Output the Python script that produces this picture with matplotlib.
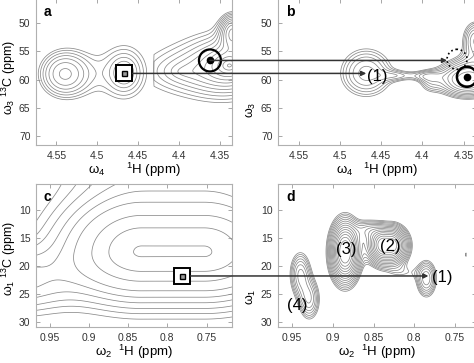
import numpy as np
import matplotlib.pyplot as plt
from matplotlib.patches import ConnectionPatch, Ellipse

plt.rcParams['font.family'] = ['Liberation Sans', 'DejaVu Sans']
plt.rcParams['mathtext.fontset'] = 'custom'
plt.rcParams['mathtext.rm'] = 'Liberation Sans'
plt.rcParams['mathtext.it'] = 'Liberation Sans'

# axis ranges (ppm)
a_xlim = (4.575, 4.335)
a_ylim = (71.6, 45.7)
c_xlim = (0.9675, 0.7175)
c_ylim = (30.9, 5.4)
d_xlim = (0.9675, 0.724)

hx_ticks = [4.55, 4.5, 4.45, 4.4, 4.35]
hx_labels = ['4.55', '4.5', '4.45', '4.4', '4.35']
ca_ticks = [50, 55, 60, 65, 70]
mx_ticks = [0.95, 0.9, 0.85, 0.8, 0.75]
mx_labels = ['0.95', '0.9', '0.85', '0.8', '0.75']
cb_ticks = [10, 15, 20, 25, 30]

# peak lists: x0, y0, sx, sy_up, sy_down, half-length in x, amp, shape (2 gauss, 1 cone)
a_split = 4.431
a_left = [(4.541, 59.0, 0.0237, 3.25, 3.25, 0.0, 0.67, 2),
          (4.467, 58.8, 0.028, 4.9, 4.7, 0.0, 0.80, 1)]
a_right = [(4.338, 57.5, 0.030, 3.4, 3.2, 0.0, 1.25, 1),
           (4.395, 58.6, 0.080, 5.5, 5.0, 0.0, 0.50, 1),
           (4.334, 51.5, 0.010, 2.0, 2.0, 0.0, 0.80, 2)]
b_peaks = [(4.468, 58.9, 0.025, 3.5, 3.3, 0.0, 0.65, 2),
           (4.414, 59.3, 0.016, 0.7, 0.7, 0.012, 0.33, 2),
           (4.345, 60.0, 0.025, 2.4, 2.1, 0.0, 1.20, 2),
           (4.392, 60.5, 0.010, 1.5, 1.5, 0.0, 0.28, 2),
           (4.335, 53.0, 0.012, 2.5, 2.5, 0.0, 0.70, 2)]
ab_levels = [0.3, 0.345, 0.40, 0.46, 0.53, 0.61, 0.70, 0.80, 0.92, 1.06,
             1.22, 1.40, 1.61, 1.85]
c_peaks = [(0.793, 17.5, 0.0585, 6.0, 4.9, 0.0396, 1.0, 2),
           (1.000, 22.5, 0.050, 3.5, 3.5, 0.0, 0.30, 2),
           (0.780, 2.0, 0.070, 4.0, 4.0, 0.04, 0.12, 2)]
c_levels = [0.05, 0.08, 0.12, 0.18, 0.256, 0.367, 0.566, 0.778, 0.985]
d_peaks = [(0.785, 22.3, 0.0080, 2.1, 2.1, 0.0, 1.0, 2),
           (0.833, 16.3, 0.0125, 2.0, 2.1, 0.004, 2.9, 2),
           (0.885, 17.5, 0.0110, 3.3, 3.3, 0.0, 2.9, 2),
           (0.858, 13.5, 0.0100, 1.2, 1.2, 0.0, 0.55, 2),
           (0.940, 21.5, 0.0085, 2.6, 2.6, 0.0, 0.9, 2),
           (0.929, 26.0, 0.0085, 2.4, 2.4, 0.0, 0.85, 2),
           (0.812, 21.2, 0.0150, 1.0, 1.0, 0.0, 0.25, 2),
           (0.7365, 18.0, 0.0015, 1.0, 1.0, 0.0, 0.32, 2)]
d_levels = [0.3, 0.36, 0.43, 0.52, 0.62, 0.74, 0.88, 1.04, 1.22, 1.42,
            1.64, 1.88, 2.14, 2.42]


def field(X, Y, peaks):
    Z = np.zeros_like(X)
    for x0, y0, sx, syu, syd, hx, amp, p in peaks:
        dx = np.maximum(np.abs(X - x0) - hx, 0) / sx
        dy = np.where(Y < y0, (Y - y0) / syu, (Y - y0) / syd)
        r = np.sqrt(dx ** 2 + dy ** 2)
        Z += amp * np.exp(-r ** p / p)
    return Z


def style(ax, xlim, ylim, xt, xl, yt):
    ax.set_xlim(xlim)
    ax.set_ylim(ylim)
    ax.set_xticks(xt)
    ax.set_xticklabels(xl)
    ax.set_yticks(yt)
    ax.tick_params(direction='in', top=True, right=True, length=3,
                   width=0.6, color='#999999', labelsize=7.5, labelcolor='#333333', pad=4)
    for s in ax.spines.values():
        s.set_color('#b0b0b0')
        s.set_linewidth(0.8)


def circ(ax, x, y, r_px, **kw):
    # ellipse in data units that looks round on screen
    w_px = ax.get_position().width * 474
    h_px = ax.get_position().height * 363
    xl, yl = ax.get_xlim(), ax.get_ylim()
    rx = r_px * abs(xl[1] - xl[0]) / w_px
    ry = r_px * abs(yl[1] - yl[0]) / h_px
    ax.add_patch(Ellipse((x, y), 2 * rx, 2 * ry, fill=False, **kw))


fig = plt.figure(figsize=(4.74, 3.63), dpi=100)
ax_a = fig.add_axes([36 / 474, 1 - 145 / 363, 196 / 474, 146 / 363])
ax_b = fig.add_axes([278 / 474, 1 - 145 / 363, 198 / 474, 146 / 363])
ax_c = fig.add_axes([36 / 474, 1 - 327 / 363, 196 / 474, 143 / 363])
ax_d = fig.add_axes([278 / 474, 1 - 327 / 363, 198 / 474, 143 / 363])

cc = '#8a8a8a'
lw = 0.55
lab_fs = 9

# panel a
x = np.linspace(a_xlim[1], a_xlim[0], 300)
y = np.linspace(a_ylim[1], a_ylim[0], 300)
X, Y = np.meshgrid(x, y)
Za = np.where(X > a_split, field(X, Y, a_left), field(X, Y, a_right))
ax_a.contour(X, Y, Za, levels=ab_levels, colors=cc, linewidths=lw)
style(ax_a, a_xlim, a_ylim, hx_ticks, hx_labels, ca_ticks)
ax_a.set_xlabel(r'ω$_4$      $^{1}$H (ppm)', fontsize=lab_fs + 0.5, labelpad=0)
ax_a.set_ylabel(r'ω$_3$ $^{13}$C (ppm)', fontsize=lab_fs)
ax_a.yaxis.set_label_coords(-0.09, 0.46)

# panel b
Zb = field(X, Y, b_peaks)
ax_b.contour(X, Y, Zb, levels=ab_levels, colors=cc, linewidths=lw)
style(ax_b, a_xlim, a_ylim, hx_ticks, hx_labels, ca_ticks)
ax_b.set_xlabel(r'ω$_4$   $^{1}$H (ppm)', fontsize=lab_fs + 0.5, labelpad=0)
ax_b.set_ylabel(r'ω$_3$', fontsize=lab_fs)
ax_b.yaxis.set_label_coords(-0.1, 0.24)

# panel c
x = np.linspace(c_xlim[1], c_xlim[0], 300)
y = np.linspace(c_ylim[1], c_ylim[0], 300)
X, Y = np.meshgrid(x, y)
Zc = field(X, Y, c_peaks)
ax_c.contour(X, Y, Zc, levels=c_levels, colors=cc, linewidths=lw)
style(ax_c, c_xlim, c_ylim, mx_ticks, mx_labels, cb_ticks)
ax_c.set_xlabel(r'ω$_2$  $^{1}$H (ppm)', fontsize=lab_fs + 0.5, labelpad=0)
ax_c.set_ylabel(r'ω$_1$ $^{13}$C (ppm)', fontsize=lab_fs)
ax_c.yaxis.set_label_coords(-0.09, 0.48)

# panel d
x = np.linspace(d_xlim[1], d_xlim[0], 300)
X, Y = np.meshgrid(x, y)
Zd = field(X, Y, d_peaks)
ax_d.contour(X, Y, Zd, levels=d_levels, colors=cc, linewidths=lw)
style(ax_d, d_xlim, c_ylim, mx_ticks, mx_labels, cb_ticks)
ax_d.set_xlabel(r'ω$_2$  $^{1}$H (ppm)', fontsize=lab_fs + 0.5, labelpad=0)
ax_d.set_ylabel(r'ω$_1$', fontsize=lab_fs)
ax_d.yaxis.set_label_coords(-0.1, 0.21)

for ax, lab in zip([ax_a, ax_b, ax_c, ax_d], 'abcd'):
    ax.text(0.04, 0.96, lab, transform=ax.transAxes, ha='left', va='top',
            fontsize=10, fontweight='bold')

# markers: square / circles
sq_a = (4.467, 58.9)
circ_a = (4.362, 56.6)
dot_b = (4.358, 56.4)
circ_b = (4.346, 59.5)
sq_c = (0.781, 21.8)

for ax, p in [(ax_a, sq_a), (ax_c, sq_c)]:
    ax.plot(*p, 's', ms=11.5, mfc='white', mec='black', mew=1.4, zorder=5)
    ax.plot(*p, 's', ms=3.6, mfc='#999999', mec='black', mew=1.0, zorder=6)

circ(ax_a, *circ_a, 11, ec='black', lw=1.6, zorder=5)
ax_a.plot(*circ_a, 'o', ms=4.5, color='black', zorder=6)
circ(ax_b, *dot_b, 10, ec='black', lw=1.2, ls=':', zorder=5)
circ(ax_b, *circ_b, 10, ec='black', lw=1.8, zorder=5)
ax_b.plot(*circ_b, 'o', ms=4.5, color='black', zorder=6)

# arrows between panels
arrows = [(ax_a, circ_a, ax_b, (4.370, circ_a[1]), 0),
          (ax_a, sq_a, ax_b, (4.468, sq_a[1]), 6),
          (ax_c, sq_c, ax_d, (0.7825, sq_c[1]), 6)]
for axA, pA, axB, pB, shr in arrows:
    con = ConnectionPatch(xyA=pA, coordsA='data', axesA=axA,
                          xyB=pB, coordsB='data', axesB=axB,
                          arrowstyle='-|>', mutation_scale=7, shrinkA=shr, shrinkB=0,
                          color='#333333', lw=1.1, zorder=10)
    fig.add_artist(con)

# peak labels
ax_b.text(4.455, 59.4, '(1)', fontsize=12, ha='center', va='center')
d_lab_x = [0.766, 0.829, 0.883, 0.944]
d_lab_y = [22.0, 16.6, 17.0, 27.0]
d_lab = ['(1)', '(2)', '(3)', '(4)']
for xx, yy, t in zip(d_lab_x, d_lab_y, d_lab):
    ax_d.text(xx, yy, t, fontsize=12, ha='center', va='center')

fig.savefig('out.png', dpi=100)
